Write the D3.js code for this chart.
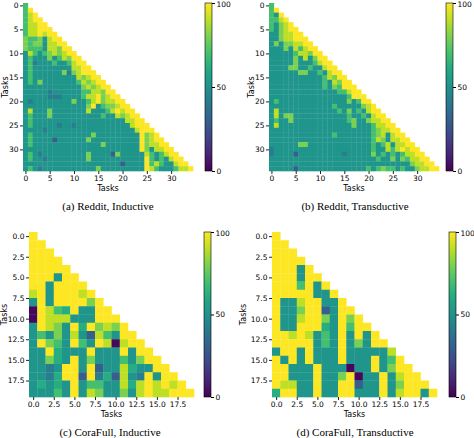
<!DOCTYPE html>
<html lang="en">
<head>
<meta charset="UTF-8">
<title>Heatmaps</title>
<script src="https://d3js.org/d3.v7.min.js"></script>
<style>
  body { margin: 0; background: #fff; }
  .tick text { font-family: "DejaVu Sans", sans-serif; font-size: 7.5px; }
  .lab { font-family: "DejaVu Sans", sans-serif; font-size: 8px; }
  .cap { font-family: "Liberation Serif", serif; font-size: 11px; }
</style>
</head>
<body>
<div id="chart"></div>
<script>
// each row i holds columns 0..i, one digit per cell; levels maps a digit to its value
const levels = [2, 15, 30, 42, 52, 62, 70, 80, 90, 100];
const redditInductive = [
  "6","69","689","6899","68899","688999","6889899","76674899","767748899","7666488799",
  "48646787899","464447468799","4634446446899","46444444448899","464444447378999",
  "4644444444487899","46474444444687899","444444444444787899","4444434444446688799",
  "44444333444468897899","434444444474468978899","4444444444444794677899",
  "48444744444448444689899","464447444444444464487899","4644444444444444444448899",
  "46444443443444444444448999","444434444444444444444448999","4644444444444474444444449789",
  "46444424444447444444444497899","464444444444444474444444978899",
  "4444444444444444444444449748899","46434444444447444427444448646899",
  "464434444444474444444444496464899","4444444444444444444424444968644899",
  "46434444444444474444444449864446889"
];
const redditTransductive = [
  "6","69","649","6689","64789","647899","4478899","44788999","474778899","4447486899",
  "44444688799","444447484799","4444474446899","44447744644899","444444774464899",
  "4444444444468799","44444444444648799","444444444446476999","4444444444444466899",
  "44444444444444446999","464444444444444474699","4444444444444644444789",
  "48444444444444647464899","484774444444444464464899","4644744444444444674478899",
  "48444444444444444744468899","444444444444444444444678899","4444444444444644444446784899",
  "44444444444444444444468748899","444444774444444444444646848899",
  "3444444444444444444446448689899","34444244444444434444474646468899",
  "444444444444444444444464474768899","4444444444444444444444444444478899",
  "44444244444444444444646766464478899"
];
const coraInductive = [
  "9","99","999","9999","99999","999499","9949999","89499989","494999979","0986594499",
  "09888444999","498749597879","4647484286499","49764964980899","449544494449499",
  "4475494744464799","44349949244854499","443599293528439499","4545494664485898989",
  "44464948744748988999"
];
const coraTransductive = [
  "9","99","999","9999","99949","999499","9996949","99999449","944899449","9447992499",
  "94489974979","944999549699","9989846494949","99999464947499","499494449444448",
  "9494944494449469","99444944404494799","994449447904494899","9884494499244947999",
  "59944944994449489949"
];
const redditTicks = [0, 5, 10, 15, 20, 25, 30];
const coraTicks = [0, 2.5, 5, 7.5, 10, 12.5, 15, 17.5];
const barTicks = [0, 50, 100];
const captions = ["(a) Reddit, Inductive", "(b) Reddit, Transductive",
                  "(c) CoraFull, Inductive", "(d) CoraFull, Transductive"];

const panels = [
  {rows: redditInductive, ticks: redditTicks, fmt: d3.format("d"), x: 23, y: 3, w: 170, h: 168, cb: 205, cap: [108, 210], yl: 15},
  {rows: redditTransductive, ticks: redditTicks, fmt: d3.format("d"), x: 269, y: 3, w: 170, h: 168, cb: 446, cap: [355, 210], yl: 15},
  {rows: coraInductive, ticks: coraTicks, fmt: d3.format(".1f"), x: 29, y: 232, w: 165, h: 165, cb: 204, cap: [110, 436], yl: 22},
  {rows: coraTransductive, ticks: coraTicks, fmt: d3.format(".1f"), x: 272, y: 232, w: 165, h: 165, cb: 449, cap: [355, 436], yl: 26}
];

const svg = d3.select("#chart").append("svg").attr("width", 474).attr("height", 438);

const defs = svg.append("defs");
const grad = defs.append("linearGradient").attr("id", "vir")
  .attr("x1", 0).attr("y1", 1).attr("x2", 0).attr("y2", 0);
d3.range(0, 1.001, 0.1).forEach(t => {
  grad.append("stop").attr("offset", t).attr("stop-color", d3.interpolateViridis(t));
});

const color = d3.scaleSequential(d3.interpolateViridis).domain([0, 100]);

panels.forEach((p, k) => {
  const n = p.rows.length;
  const x = d3.scaleLinear().domain([-0.5, n - 0.5]).range([p.x, p.x + p.w]);
  const y = d3.scaleLinear().domain([-0.5, n - 0.5]).range([p.y, p.y + p.h]);
  const cells = [];
  p.rows.forEach((s, i) => {
    for (let j = 0; j <= i; j++) {
      const c = j < s.length ? s[j] : s[s.length - 1];
      cells.push({i, j, v: levels[+c]});
    }
  });
  const g = svg.append("g");
  g.selectAll("rect").data(cells).enter().append("rect")
    .attr("x", d => x(d.j - 0.5))
    .attr("y", d => y(d.i - 0.5))
    .attr("width", x(1) - x(0) + 0.3)
    .attr("height", y(1) - y(0) + 0.3)
    .attr("fill", d => color(d.v));

  const xa = svg.append("g").attr("transform", `translate(0,${p.y + p.h})`)
    .call(d3.axisBottom(x).tickValues(p.ticks).tickFormat(p.fmt).tickSize(3).tickPadding(1.5));
  const ya = svg.append("g").attr("transform", `translate(${p.x},0)`)
    .call(d3.axisLeft(y).tickValues(p.ticks).tickFormat(p.fmt).tickSize(3).tickPadding(1.5));
  [xa, ya].forEach(a => { a.select(".domain").remove(); a.selectAll("line").attr("stroke", "#222"); });

  svg.append("text").attr("class", "lab").attr("text-anchor", "middle")
    .attr("x", p.x + p.w / 2).attr("y", p.y + p.h + 20).text("Tasks");
  svg.append("text").attr("class", "lab").attr("text-anchor", "middle")
    .attr("transform", `translate(${p.x - p.yl},${p.y + p.h / 2}) rotate(-90)`)
    .text("Tasks");

  // colorbar
  const cy = d3.scaleLinear().domain([0, 100]).range([p.y + p.h, p.y]);
  svg.append("rect").attr("x", p.cb).attr("y", p.y).attr("width", 7).attr("height", p.h)
    .attr("fill", "url(#vir)").attr("stroke", "#000").attr("stroke-width", 0.6);
  const ca = svg.append("g").attr("transform", `translate(${p.cb + 7},0)`)
    .call(d3.axisRight(cy).tickValues(barTicks).tickSize(3).tickPadding(1.5));
  ca.select(".domain").remove();
  ca.selectAll("text").filter(d => d === 100).attr("dy", "0.5em");

  svg.append("text").attr("class", "cap").attr("text-anchor", "middle")
    .attr("x", p.cap[0]).attr("y", p.cap[1]).text(captions[k]);
});
</script>
</body>
</html>
